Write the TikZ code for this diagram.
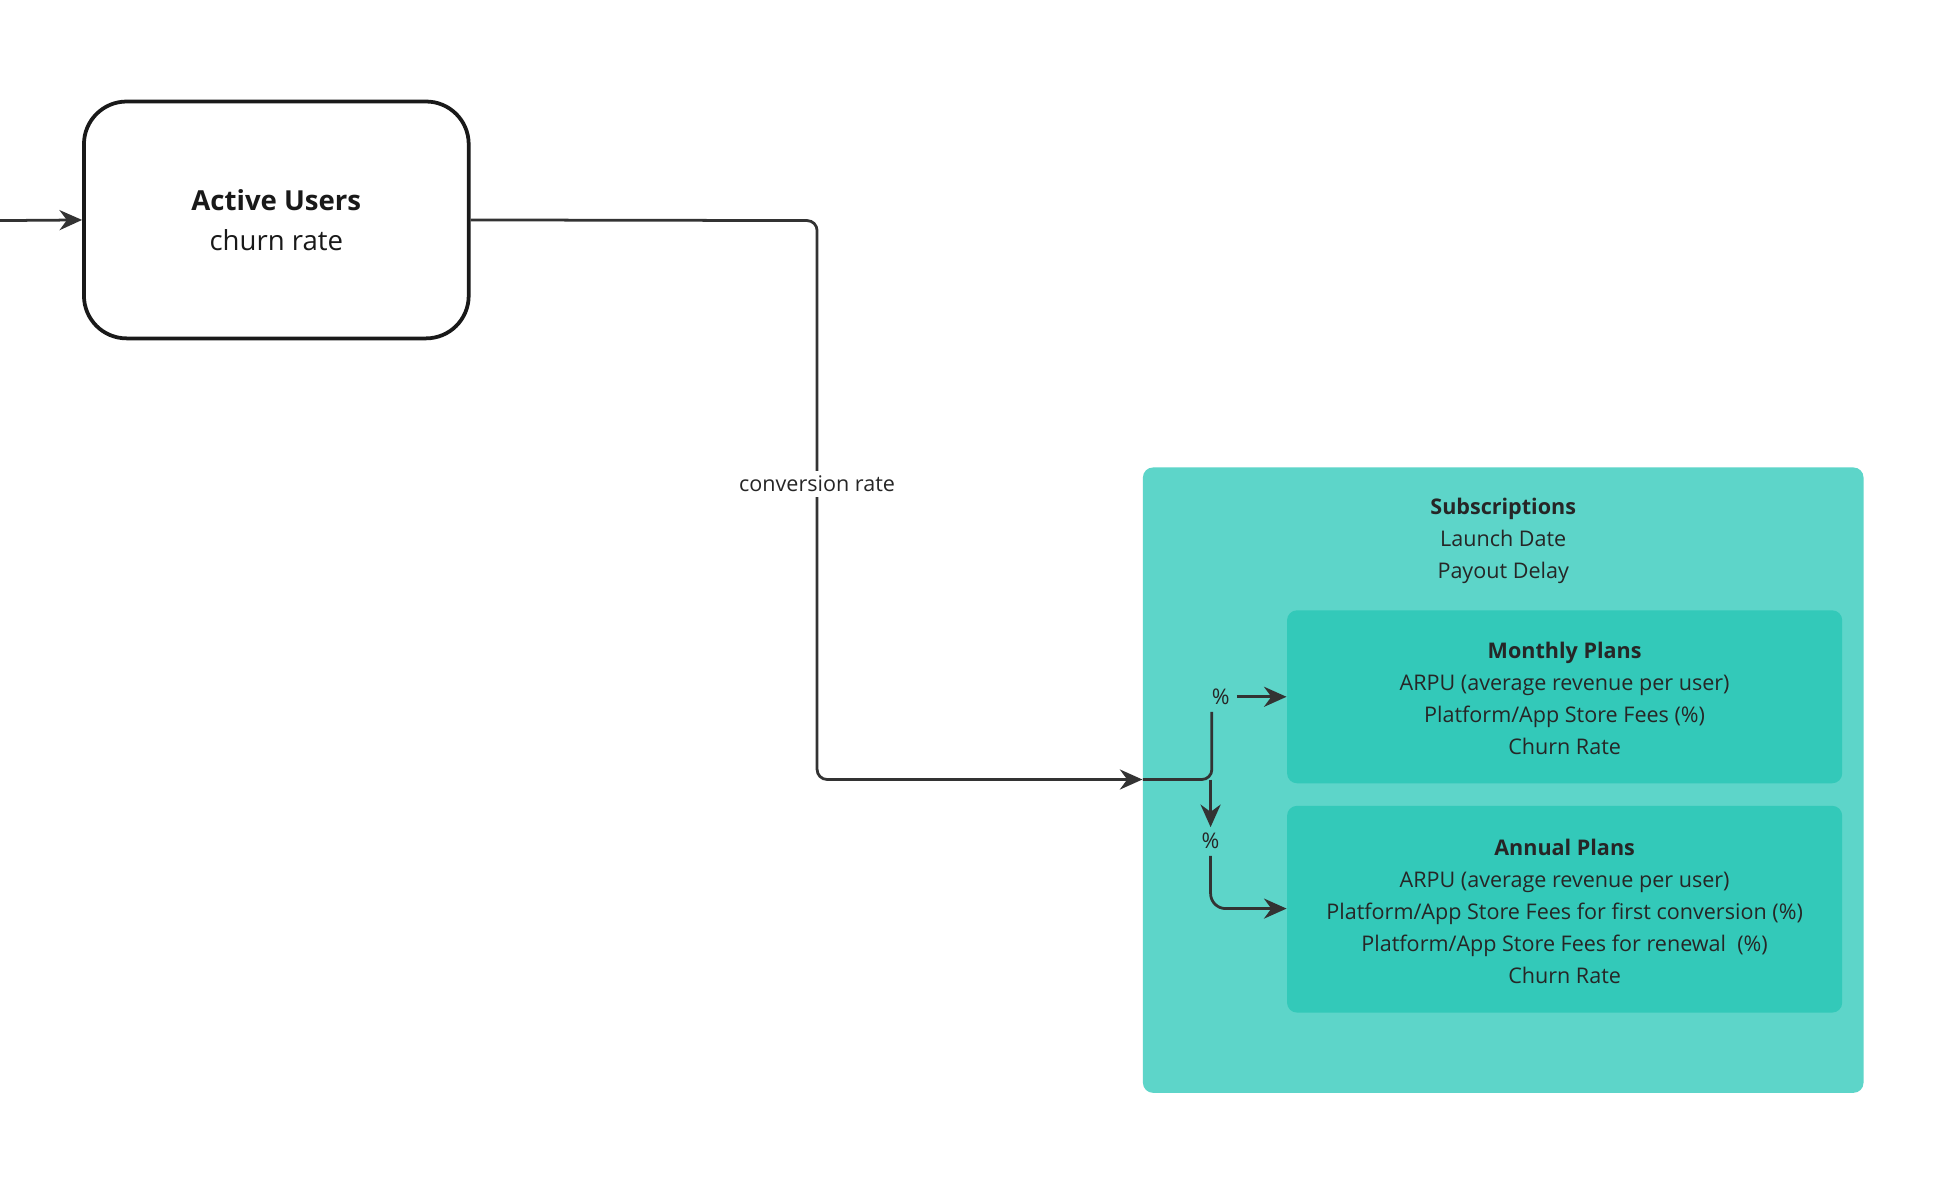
\documentclass[tikz,border=0pt]{standalone}
\usepackage{fontspec}
\setmainfont{Open Sans}
\usetikzlibrary{arrows.meta}
\definecolor{ink}{HTML}{333333}
\definecolor{outerc}{HTML}{5DD5C9}
\definecolor{innerc}{HTML}{33C9B9}
\begin{document}
\begin{tikzpicture}[x=0.5pt,y=-0.5pt,
  conn/.style={draw=ink,line width=1.1pt,-{Stealth[length=9pt,width=8pt]}},
  txt/.style={font=\fontsize{8.6pt}{12.8pt}\selectfont,align=center,text=black!85,inner sep=0}]
\useasboundingbox (0,0) rectangle (1560,950);
\fill[white] (0,0) rectangle (1560,950);
% Active users
\node[draw=black!90,line width=1.5pt,rounded corners=17pt,minimum width=153.5pt,minimum height=94.5pt,inner sep=0] (au) at (220.5,175.5) {};
\node[font=\fontsize{11pt}{16pt}\selectfont,align=center,text=black!90] (aut) at (220.5,176) {\textbf{Active Users}\\churn rate};
\coordinate (in) at (0,176);
\draw[conn] (in) -- (au.west);
% outer box
\node[fill=outerc,rounded corners=4pt,minimum width=287.5pt,minimum height=249.5pt,inner sep=0] (sub) at (1199.5,622.5) {};
\node[txt] (subt) at (1199.5,431.5) {\textbf{Subscriptions}\\Launch Date\\Payout Delay};
\node[fill=innerc,rounded corners=4pt,minimum width=221.5pt,minimum height=69pt,inner sep=0] (mp) at (1248.5,556) {};
\node[txt] (mpt) at (1248.5,557.5) {\textbf{Monthly Plans}\\ARPU (average revenue per user)\\Platform/App Store Fees (\%)\\Churn Rate};
\node[fill=innerc,rounded corners=4pt,minimum width=221.5pt,minimum height=82.5pt,inner sep=0] (ap) at (1248.5,725.5) {};
\node[txt] (apt) at (1248.5,727) {\textbf{Annual Plans}\\ARPU (average revenue per user)\\Platform/App Store Fees for first conversion (\%)\\Platform/App Store Fees for renewal~~(\%)\\Churn Rate};
% main connector
\coordinate (c1) at (652,176);
\coordinate (c2) at (652,622);
\draw[conn,rounded corners=4pt] (au.east) -- (c1) -- (c2) -- (sub.west|-c2);
\node[fill=white,txt,inner sep=2pt] (cr) at (652,386) {conversion rate};
% branches
\coordinate (b0) at (912,622);
\coordinate (b1) at (967,622);
\node[txt] (p1) at (974,556) {\%};
\node[txt] (p2) at (966,671) {\%};
\draw[draw=ink,line width=1.1pt,rounded corners=4pt] (b0) -- (b1) -- (967,568);
\draw[conn] (987,556) -- (mp.west|-0,556);
\draw[conn,rounded corners=6pt] (966,622) -- (966,660);
\draw[conn,rounded corners=6pt] (966,683) -- (966,725) -- (ap.west|-0,725);
\end{tikzpicture}
\end{document}
